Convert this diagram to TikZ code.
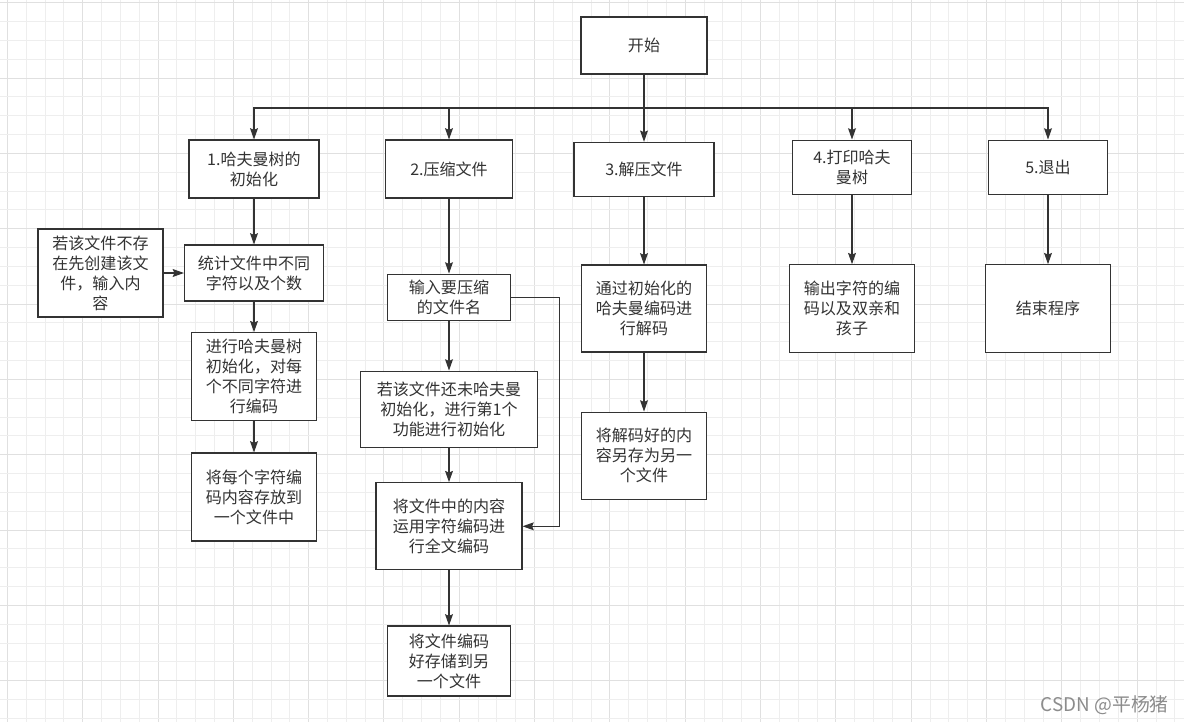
\documentclass[tikz,border=0pt]{standalone}
\usepackage{fontspec}
\setmainfont{Noto Sans CJK SC}
\usetikzlibrary{arrows.meta}
\definecolor{ink}{HTML}{333333}
\definecolor{gridminor}{HTML}{EEEEEE}
\definecolor{gridmajor}{HTML}{E0E0E0}
\definecolor{markgray}{HTML}{8C8C8C}
\begin{document}
\begin{tikzpicture}[x=0.025cm,y=-0.025cm,
		box/.style 2 args={draw=ink,fill=white,line width=0.75pt,text=ink,align=center,inner sep=0pt,
				minimum width=#1*0.025cm,minimum height=#2*0.025cm,font=\fontsize{11.4}{14.2}\selectfont},
		link/.style={draw=ink,line width=0.75pt},
		arr/.style={link,-{Stealth[length=8pt,width=5.6pt,inset=1.2pt]}}]
	\pgfmathsetmacro{\gap}{18.83}

	\useasboundingbox (0,0) rectangle (1184,722);
	\fill[white] (0,0) rectangle (1184,722);

	% background grid, a darker line every 4 cells
	\begin{scope}
		\clip (0,0) rectangle (1184,722);
		\foreach \i in {0,...,62}
			{
				\pgfmathtruncatemacro{\rest}{mod(\i,4)}
				\ifnum\rest=0
					\draw[gridmajor,line width=0.6pt] ({7.3+\i*\gap},0) -- ({7.3+\i*\gap},722);
				\else
					\draw[gridminor,line width=0.6pt] ({7.3+\i*\gap},0) -- ({7.3+\i*\gap},722);
				\fi
			}
		\foreach \j in {0,...,38}
			{
				\pgfmathtruncatemacro{\rest}{mod(\j,4)}
				\ifnum\rest=0
					\draw[gridmajor,line width=0.6pt] (0,{2.7+\j*\gap}) -- (1184,{2.7+\j*\gap});
				\else
					\draw[gridminor,line width=0.6pt] (0,{2.7+\j*\gap}) -- (1184,{2.7+\j*\gap});
				\fi
			}
	\end{scope}

	\node[box={126}{57}] (start) at (644,45.5) {开始};
	\coordinate (bus) at (644,108);

	\node[box={130}{58}] (init) at (254,169) {1.哈夫曼树的\\初始化};
	\node[box={127}{58}] (zip) at (449,169) {2.压缩文件};
	\node[box={140}{54.4}] (unzip) at (644,169.5) {3.解压文件};
	\node[box={119}{54.3}] (print) at (852,167.2) {4.打印哈夫\\曼树};
	\node[box={119}{54.3}] (quit) at (1048,167.2) {5.退出};

	\node[box={125}{88}] (create) at (100.5,273) {若该文件不存\\在先创建该文\\件，输入内\\容};
	\node[box={139}{56}] (count) at (254,273) {统计文件中不同\\字符以及个数};
	\node[box={125}{88.3}] (build) at (254,376.8) {进行哈夫曼树\\初始化，对每\\个不同字符进\\行编码};
	\node[box={125}{88}] (save) at (254,497) {将每个字符编\\码内容存放到\\一个文件中};

	\node[box={122.3}{46.3}] (fname) at (449,297.2) {输入要压缩\\的文件名};
	\node[box={176.3}{76.3}] (check) at (449,409.2) {若该文件还未哈夫曼\\初始化，进行第1个\\功能进行初始化};
	\node[box={146}{87.3}] (encode) at (449,526.3) {将文件中的内容\\运用字符编码进\\行全文编码};
	\node[box={122.3}{70}] (store) at (449,661) {将文件编码\\好存储到另\\一个文件};
	\coordinate (skip) at (559.3,297.2);

	\node[box={125}{87}] (decode) at (644,308.5) {通过初始化的\\哈夫曼编码进\\行解码};
	\node[box={125.3}{87.3}] (saveas) at (644,455.7) {将解码好的内\\容另存为另一\\个文件};

	\node[box={125}{87.6}] (show) at (852,308.5) {输出字符的编\\码以及双亲和\\孩子};
	\node[box={125.3}{87.6}] (finish) at (1048,308.5) {结束程序};

	\draw[link,line width=1.2pt] (start) -- (bus);
	\draw[arr] (bus) -- (unzip);
	\foreach \n in {init,zip,print,quit}
		\draw[arr] (bus) -| (\n);

	\draw[arr] (init) -- (count);
	\draw[arr] (create) -- (count);
	\draw[arr] (count) -- (build);
	\draw[arr] (build) -- (save);

	\draw[arr] (zip) -- (fname);
	\draw[arr] (fname) -- (check);
	\draw[arr] (check) -- (encode);
	\draw[arr] (fname) -- (skip) |- (encode);
	\draw[arr] (encode) -- (store);

	\draw[arr] (unzip) -- (decode);
	\draw[arr] (decode) -- (saveas);
	\draw[arr] (print) -- (show);
	\draw[arr] (quit) -- (finish);

	\node[anchor=east,inner sep=0pt,text=markgray,font=\fontsize{13.4}{15}\selectfont] (mark) at (1169,705) {CSDN @平杨猪};
\end{tikzpicture}
\end{document}
